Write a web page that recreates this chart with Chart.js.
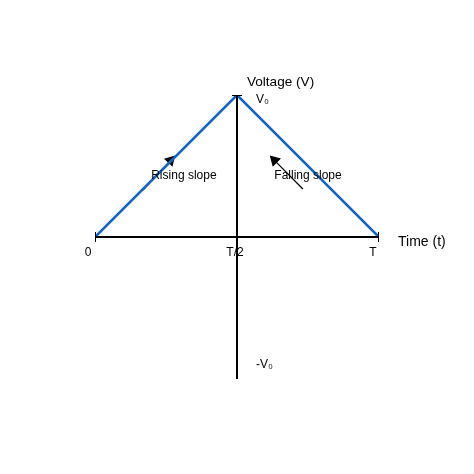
<!DOCTYPE html>
<html>
<head>
<meta charset="utf-8">
<script src="https://cdn.jsdelivr.net/npm/chart.js@4.4.1/dist/chart.umd.min.js"></script>
<style>
  html, body { margin: 0; padding: 0; background: #fff; }
  #wrap { width: 474px; height: 474px; }
</style>
</head>
<body>
<div id="wrap"><canvas id="triangle-chart"></canvas></div>
<script>
// time in units of T, voltage in units of V0
const waveTime = [0, 0.5, 1];
const waveVolts = [0, 1, 0];

const tickValues = [0, 0.5, 1];
const tickLabels = ["0", "T/2", "T"];
const tickLabelX = [-0.024, 0.493, 0.979];

// arrows: [tailX, tailY, headX, headY]
const risingArrow = [0.169, 0.331, 0.266, 0.54];
const fallingArrow = [0.732, 0.338, 0.632, 0.54];

// text labels: [text, x, y, size, align]
const textLabels = [
    ["Voltage (V)", 0.535, 1.09, 13.6, "left"],
    ["Time (t)", 1.067, -0.035, 14, "left"],
    ["V₀", 0.567, 0.965, 12, "left"],
    ["-V₀", 0.567, -0.90, 12, "left"],
    ["Rising slope", 0.313, 0.43, 12, "center"],
    ["Falling slope", 0.75, 0.43, 12, "center"]
];

function pts(xs, ys) {
    return xs.map((x, i) => ({ x: x, y: ys[i] }));
}

function arrowData(a) {
    return [{ x: a[0], y: a[1] }, { x: a[2], y: a[3] }];
}

const labelPlugin = {
    id: "labels",
    afterDatasetsDraw(chart) {
        const ctx = chart.ctx;
        const xs = chart.scales.x;
        const ys = chart.scales.y;
        ctx.save();
        ctx.fillStyle = "#000";
        ctx.textBaseline = "middle";
        textLabels.forEach(l => {
            ctx.font = l[3] + "px 'Liberation Sans', Arial, sans-serif";
            ctx.textAlign = l[4];
            ctx.fillText(l[0], xs.getPixelForValue(l[1]), ys.getPixelForValue(l[2]));
        });
        ctx.font = "12px 'Liberation Sans', Arial, sans-serif";
        ctx.textAlign = "center";
        tickValues.forEach((v, i) => {
            ctx.fillText(tickLabels[i], xs.getPixelForValue(tickLabelX[i]), ys.getPixelForValue(-0.11));
        });
        ctx.restore();
    }
};

const ctx = document.getElementById("triangle-chart").getContext("2d");

var chart = new Chart(ctx, {
    type: "scatter",
    data: {
        datasets: [
            {
                label: "time axis",
                data: [{ x: 0, y: 0 }, { x: 1, y: 0 }],
                showLine: true,
                borderColor: "#000",
                borderWidth: 2,
                pointStyle: "line",
                rotation: 90,
                pointRadius: 5,
                pointBorderWidth: 2,
                pointBorderColor: "#000"
            },
            {
                label: "voltage axis",
                data: [{ x: 0.5, y: -1 }, { x: 0.5, y: 1 }],
                showLine: true,
                borderColor: "#000",
                borderWidth: 2,
                pointStyle: "line",
                rotation: 0,
                pointRadius: [0, 5],
                pointBorderWidth: 2,
                pointBorderColor: "#000"
            },
            {
                label: "Triangle wave",
                data: pts(waveTime, waveVolts),
                showLine: true,
                borderColor: "#1565c0",
                borderWidth: 2.6,
                pointRadius: 0
            },
            {
                label: "rising arrow",
                data: arrowData(risingArrow),
                showLine: true,
                borderColor: "#000",
                borderWidth: 1.2,
                pointStyle: "triangle",
                rotation: 43,
                pointRadius: [0, 5.5],
                backgroundColor: "#000",
                pointBorderColor: "#000"
            },
            {
                label: "falling arrow",
                data: arrowData(fallingArrow),
                showLine: true,
                borderColor: "#000",
                borderWidth: 1.2,
                pointStyle: "triangle",
                rotation: -45,
                pointRadius: [0, 5.5],
                backgroundColor: "#000",
                pointBorderColor: "#000"
            }
        ]
    },
    options: {
        responsive: true,
        maintainAspectRatio: false,
        animation: false,
        layout: { padding: { left: 95, right: 95, top: 95, bottom: 95 } },
        plugins: {
            legend: { display: false },
            tooltip: { enabled: false }
        },
        scales: {
            x: { type: "linear", min: 0, max: 1, display: false },
            y: { type: "linear", min: -1, max: 1, display: false }
        }
    },
    plugins: [labelPlugin]
});
</script>
</body>
</html>
